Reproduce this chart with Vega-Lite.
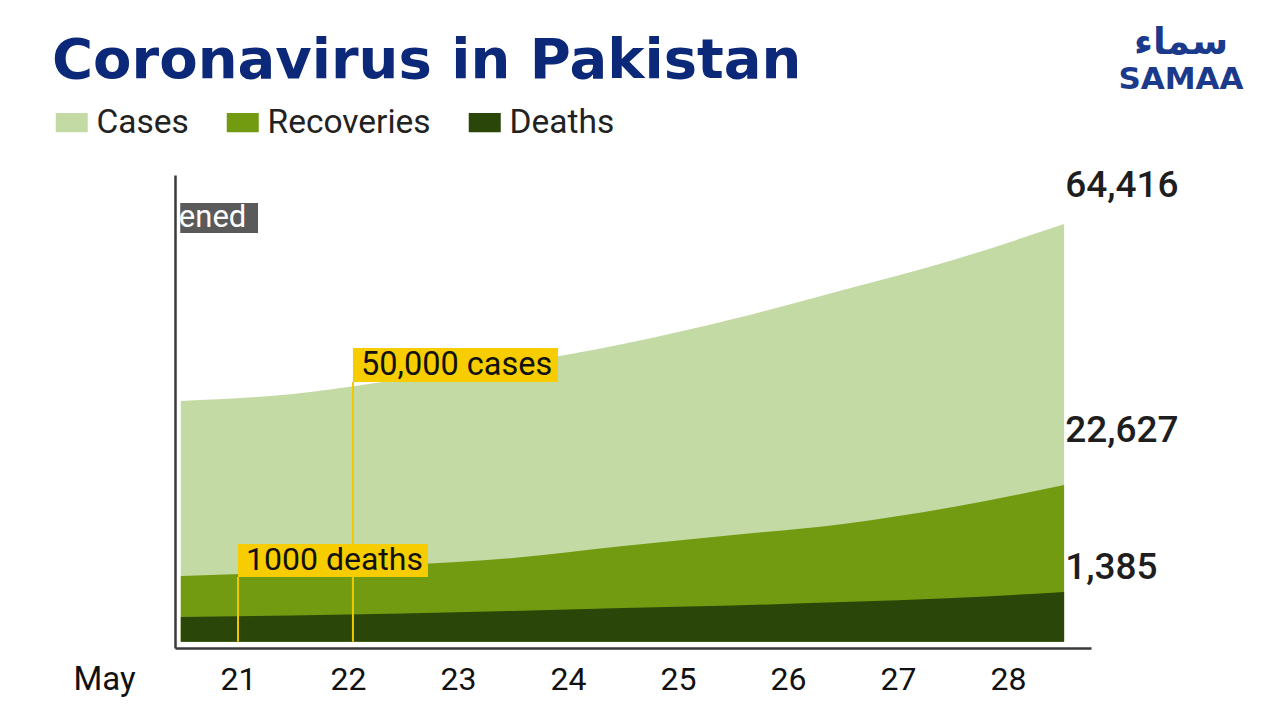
{
  "$schema": "https://vega.github.io/schema/vega-lite/v6.json",
  "width": 916,
  "height": 473,
  "autosize": {"type": "none"},
  "padding": {"left": 175, "top": 175, "right": 189, "bottom": 72},
  "background": "white",
  "config": {"view": {"stroke": null}, "font": "Roboto"},
  "datasets": {
    "series": [
      {"day": 20.48, "series": "Cases", "count": 37121},
      {"day": 21.5, "series": "Cases", "count": 38200},
      {"day": 22.5, "series": "Cases", "count": 40514},
      {"day": 23.5, "series": "Cases", "count": 42827},
      {"day": 24.5, "series": "Cases", "count": 45911},
      {"day": 25.5, "series": "Cases", "count": 49767},
      {"day": 26.5, "series": "Cases", "count": 54239},
      {"day": 27.5, "series": "Cases", "count": 58866},
      {"day": 28.51, "series": "Cases", "count": 64416},
      {"day": 20.48, "series": "Recoveries", "count": 10132},
      {"day": 21.5, "series": "Recoveries", "count": 10749},
      {"day": 22.5, "series": "Recoveries", "count": 11829},
      {"day": 23.5, "series": "Recoveries", "count": 12908},
      {"day": 24.5, "series": "Recoveries", "count": 14759},
      {"day": 25.5, "series": "Recoveries", "count": 16455},
      {"day": 26.5, "series": "Recoveries", "count": 18152},
      {"day": 27.5, "series": "Recoveries", "count": 20773},
      {"day": 28.51, "series": "Recoveries", "count": 24166},
      {"day": 20.48, "series": "Deaths", "count": 3809},
      {"day": 21.5, "series": "Deaths", "count": 4041},
      {"day": 22.5, "series": "Deaths", "count": 4349},
      {"day": 23.5, "series": "Deaths", "count": 4735},
      {"day": 24.5, "series": "Deaths", "count": 5197},
      {"day": 25.5, "series": "Deaths", "count": 5583},
      {"day": 26.5, "series": "Deaths", "count": 6123},
      {"day": 27.5, "series": "Deaths", "count": 6739},
      {"day": 28.51, "series": "Deaths", "count": 7665}
    ]
  },
  "data": {"name": "series"},
  "layer": [
    {
      "transform": [{"filter": "datum.series === 'Cases'"}],
      "mark": {"type": "area", "interpolate": "monotone", "opacity": 1},
      "encoding": {
        "x": {
          "field": "day", "type": "quantitative",
          "scale": {"domain": [20.4273, 28.7545], "nice": false, "zero": false},
          "axis": {
            "values": [21, 22, 23, 24, 25, 26, 27, 28], "format": "d",
            "title": "May", "ticks": false, "tickSize": 0, "grid": false,
            "domainColor": "#3a3a3a", "domainWidth": 2.5,
            "labelFontSize": 32, "labelFont": "Roboto", "labelColor": "#111111",
            "labelPadding": 31, "labelBaseline": "middle", "labelFlush": false, "labelOverlap": false,
            "titleX": -71, "titleY": 31, "titleAlign": "center", "titleBaseline": "middle",
            "titleFontSize": 33, "titleFontWeight": "normal", "titleColor": "#111111", "titleFont": "Roboto"
          }
        },
        "y": {
          "field": "count", "type": "quantitative", "stack": null,
          "scale": {"domain": [-972, 71974], "nice": false, "zero": false},
          "axis": {"title": null, "labels": false, "ticks": false, "grid": false, "domainColor": "#3a3a3a", "domainWidth": 2.5}
        },
        "y2": {"datum": 0},
        "color": {
          "field": "series", "type": "nominal",
          "scale": {"domain": ["Cases", "Recoveries", "Deaths"], "range": ["#c4daa5", "#739b12", "#2a4608"]},
          "legend": {
            "orient": "none", "legendX": -120, "legendY": -69.5, "direction": "horizontal",
            "title": null, "symbolType": "M-1,-0.6H1V0.6H-1Z", "symbolSize": 1024,
            "symbolStrokeWidth": 0, "symbolOpacity": 1,
            "labelFontSize": 33.5, "labelFont": "Roboto", "labelColor": "#222222",
            "labelOffset": 8, "columnPadding": 37, "padding": 0, "labelLimit": 400
          }
        }
      }
    },
    {
      "transform": [{"filter": "datum.series === 'Recoveries'"}],
      "mark": {"type": "area", "interpolate": "monotone", "opacity": 1},
      "encoding": {
        "x": {"field": "day", "type": "quantitative"},
        "y": {"field": "count", "type": "quantitative", "stack": null},
        "y2": {"datum": 0},
        "color": {"field": "series", "type": "nominal"}
      }
    },
    {
      "transform": [{"filter": "datum.series === 'Deaths'"}],
      "mark": {"type": "area", "interpolate": "monotone", "opacity": 1},
      "encoding": {
        "x": {"field": "day", "type": "quantitative"},
        "y": {"field": "count", "type": "quantitative", "stack": null},
        "y2": {"datum": 0},
        "color": {"field": "series", "type": "nominal"}
      }
    },
    {
      "data": {"values": [{}]},
      "mark": {"type": "rule", "color": "#f2c700", "strokeWidth": 2},
      "encoding": {
        "x": {"datum": 22.045, "type": "quantitative"},
        "y": {"datum": 40051, "type": "quantitative"},
        "y2": {"datum": 0}
      }
    },
    {
      "data": {"values": [{}]},
      "mark": {"type": "rule", "color": "#f2c700", "strokeWidth": 2},
      "encoding": {
        "x": {"datum": 21, "type": "quantitative"},
        "y": {"datum": 9978, "type": "quantitative"},
        "y2": {"datum": 0}
      }
    },
    {
      "data": {"values": [{}]},
      "mark": {"type": "rect", "color": "#f7cd00"},
      "encoding": {
        "x": {"datum": 22.045, "type": "quantitative"},
        "x2": {"datum": 23.909},
        "y": {"datum": 40051, "type": "quantitative"},
        "y2": {"datum": 45294}
      }
    },
    {
      "data": {"values": [{}]},
      "mark": {"type": "rect", "color": "#f7cd00"},
      "encoding": {
        "x": {"datum": 21, "type": "quantitative"},
        "x2": {"datum": 22.727},
        "y": {"datum": 9978, "type": "quantitative"},
        "y2": {"datum": 15067}
      }
    },
    {
      "data": {"values": [{}]},
      "mark": {"type": "text", "text": "50,000 cases", "align": "left", "baseline": "middle", "fontSize": 32.5, "font": "Roboto", "color": "#111111"},
      "encoding": {
        "x": {"datum": 22.118, "type": "quantitative"},
        "y": {"datum": 42672, "type": "quantitative"}
      }
    },
    {
      "data": {"values": [{}]},
      "mark": {"type": "text", "text": "1000 deaths", "align": "left", "baseline": "middle", "fontSize": 32, "font": "Roboto", "color": "#111111"},
      "encoding": {
        "x": {"datum": 21.073, "type": "quantitative"},
        "y": {"datum": 12523, "type": "quantitative"}
      }
    },
    {
      "data": {"values": [{}]},
      "mark": {"type": "rect", "color": "#5a5a5a"},
      "encoding": {
        "x": {"datum": 20.475, "type": "quantitative"},
        "x2": {"datum": 21.182},
        "y": {"datum": 63030, "type": "quantitative"},
        "y2": {"datum": 67656}
      }
    },
    {
      "data": {"values": [{}]},
      "mark": {"type": "text", "text": "ened", "align": "left", "baseline": "middle", "fontSize": 31, "font": "Roboto", "color": "#ffffff"},
      "encoding": {
        "x": {"datum": 20.462, "type": "quantitative"},
        "y": {"datum": 65343, "type": "quantitative"}
      }
    },
    {
      "data": {"values": [{}]},
      "mark": {"type": "text", "text": "64,416", "align": "left", "baseline": "middle", "fontSize": 37, "fontWeight": 500, "font": "Roboto", "color": "#1e1e1e"},
      "encoding": {
        "x": {"datum": 28.52, "type": "quantitative"},
        "y": {"datum": 70277, "type": "quantitative"}
      }
    },
    {
      "data": {"values": [{}]},
      "mark": {"type": "text", "text": "22,627", "align": "left", "baseline": "middle", "fontSize": 37, "fontWeight": 500, "font": "Roboto", "color": "#1e1e1e"},
      "encoding": {
        "x": {"datum": 28.52, "type": "quantitative"},
        "y": {"datum": 32494, "type": "quantitative"}
      }
    },
    {
      "data": {"values": [{}]},
      "mark": {"type": "text", "text": "1,385", "align": "left", "baseline": "middle", "fontSize": 37, "fontWeight": 500, "font": "Roboto", "color": "#1e1e1e"},
      "encoding": {
        "x": {"datum": 28.52, "type": "quantitative"},
        "y": {"datum": 11366, "type": "quantitative"}
      }
    },
    {
      "data": {"values": [{}]},
      "mark": {"type": "text", "text": "Coronavirus in Pakistan", "align": "left", "baseline": "alphabetic", "fontSize": 56, "fontWeight": "bold", "font": "DejaVu Sans", "color": "#0c2878"},
      "encoding": {
        "x": {"datum": 19.309, "type": "quantitative"},
        "y": {"datum": 86933, "type": "quantitative"}
      }
    },
    {
      "data": {"values": [{}]},
      "mark": {"type": "text", "text": "سماء", "align": "center", "baseline": "alphabetic", "fontSize": 37, "fontWeight": "bold", "font": "DejaVu Sans", "color": "#1b3a8c"},
      "encoding": {
        "x": {"datum": 29.573, "type": "quantitative"},
        "y": {"datum": 90634, "type": "quantitative"}
      }
    },
    {
      "data": {"values": [{}]},
      "mark": {"type": "text", "text": "SAMAA", "align": "center", "baseline": "alphabetic", "fontSize": 31, "fontWeight": "bold", "font": "DejaVu Sans", "color": "#1b3a8c"},
      "encoding": {
        "x": {"datum": 29.573, "type": "quantitative"},
        "y": {"datum": 85236, "type": "quantitative"}
      }
    }
  ]
}
